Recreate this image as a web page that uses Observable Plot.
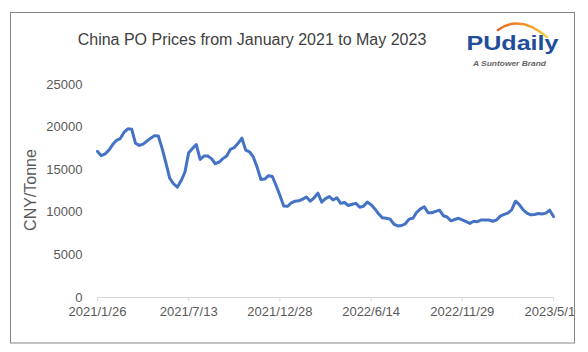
<!DOCTYPE html>
<html><head><meta charset="utf-8">
<script src="https://cdn.jsdelivr.net/npm/d3@7"></script>
<script src="https://cdn.jsdelivr.net/npm/@observablehq/plot@0.6"></script>
<style>
html,body{margin:0;padding:0;background:#fff;}
#wrap{position:relative;width:576px;height:352px;overflow:hidden;background:#fff;}
#wrap svg{max-width:none !important;width:588px;height:352px;display:block;}
</style></head><body><div id="wrap"></div>
<script>
// Weekly observations starting 2021/1/26
const startDate = "2021-01-26";
const values = [
  17150,16650,16850,17300,17950,18450,18650,19400,19800,19750,
  18100,17850,18000,18350,18700,19000,18950,17500,15800,14000,
  13350,12950,13700,14700,17000,17500,17950,16200,16600,16600,
  16300,15700,15900,16300,16600,17400,17600,18100,18700,17300,
  17100,16500,15300,13850,13900,14300,14200,13150,12000,10750,
  10700,11100,11300,11350,11550,11800,11300,11700,12250,11200,
  11600,11850,11450,11700,11050,11150,10800,10950,11050,10600,
  10700,11200,10900,10400,9800,9350,9300,9200,8600,8400,
  8450,8650,9200,9300,10000,10400,10650,9950,9950,10100,
  10250,9600,9450,9000,9150,9300,9100,8900,8700,8950,
  8900,9100,9100,9100,8950,9100,9550,9750,9900,10300,
  11300,10900,10300,9900,9700,9750,9850,9800,9900,10250,
  9500
];
const xTickLabels = ["2021/1/26","2021/7/13","2021/12/28","2022/6/14","2022/11/29","2023/5/16"];
const yTicks = [0,5000,10000,15000,20000,25000];
const titleText = "China PO Prices from January 2021 to May 2023";
const yLabelText = "CNY/Tonne";
const logoText = "PUdaily";
const logoSub = "A Suntower Brand";

const start = new Date(startDate + "T00:00:00Z");
const data = values.map((v, i) => ({date: d3.utcDay.offset(start, 7 * i), value: v}));
const parseTick = s => { const [y, m, d] = s.split("/").map(Number); return new Date(Date.UTC(y, m - 1, d)); };
const tickDates = xTickLabels.map(parseTick);
const fmt = d => `${d.getUTCFullYear()}/${d.getUTCMonth() + 1}/${d.getUTCDate()}`;

const chart = Plot.plot({
  width: 588, height: 352,
  marginLeft: 97, marginRight: 35, marginTop: 84, marginBottom: 55,
  style: {fontFamily: "'Liberation Sans', Arial, sans-serif", fontSize: "13px", color: "#595959", background: "#fff", overflow: "visible", maxWidth: "none"},
  x: {type: "utc", domain: [tickDates[0], tickDates[tickDates.length - 1]]},
  y: {domain: [0, 25000]},
  marks: [
    Plot.axisY({ticks: yTicks, tickSize: 0, tickPadding: 15, tickFormat: d => String(d), label: null, fill: "#595959"}),
    Plot.ruleY([0], {stroke: "#d9d9d9", strokeWidth: 1}),
    Plot.axisX({ticks: tickDates, tickSize: 4, tickPadding: 5, tickFormat: fmt, label: null, stroke: "#d9d9d9", fill: "#595959"}),
    Plot.lineY(data, {x: "date", y: "value", stroke: "#4472C4", strokeWidth: 3})
  ]
});

const svg = d3.select(chart);
const defs = svg.append("defs");
const grad = defs.append("linearGradient").attr("id", "arcGrad").attr("x1", "0%").attr("x2", "100%");
grad.append("stop").attr("offset", "0%").attr("stop-color", "#e8641b");
grad.append("stop").attr("offset", "60%").attr("stop-color", "#f29a25");
grad.append("stop").attr("offset", "100%").attr("stop-color", "#f7cf4a");

// chart border
svg.append("rect").attr("x", 10.5).attr("y", 12.5).attr("width", 564).attr("height", 330.5)
  .attr("fill", "none").attr("stroke", "#858585").attr("stroke-width", 1);

// title
svg.append("text").attr("x", 252).attr("y", 45).attr("text-anchor", "middle")
  .attr("font-family", "'Liberation Sans', Arial, sans-serif").attr("font-size", 16)
  .attr("fill", "#404040").text(titleText);

// y label
svg.append("text").attr("transform", "translate(36,190) rotate(-90)").attr("text-anchor", "middle")
  .attr("font-family", "'Liberation Sans', Arial, sans-serif").attr("font-size", 16)
  .attr("fill", "#595959").text(yLabelText);

// logo
svg.append("path").attr("d", "M498,30 Q520,14 547,37").attr("fill", "none")
  .attr("stroke", "url(#arcGrad)").attr("stroke-width", 2.5).attr("stroke-linecap", "round");
svg.append("text").attr("x", 466.5).attr("y", 50).attr("text-anchor", "start").attr("font-family", "'Liberation Sans', Arial, sans-serif")
  .attr("font-size", 21).attr("font-weight", "bold").attr("fill", "#1f4e9a")
  .attr("textLength", 92).attr("lengthAdjust", "spacingAndGlyphs").text(logoText);
svg.append("text").attr("x", 473).attr("y", 65.5).attr("text-anchor", "start").attr("font-family", "'Liberation Sans', Arial, sans-serif")
  .attr("font-size", 7.5).attr("font-weight", "bold").attr("font-style", "italic").attr("fill", "#666")
  .attr("textLength", 73).attr("lengthAdjust", "spacingAndGlyphs").text(logoSub);

document.getElementById("wrap").appendChild(chart);
</script>
</body></html>
